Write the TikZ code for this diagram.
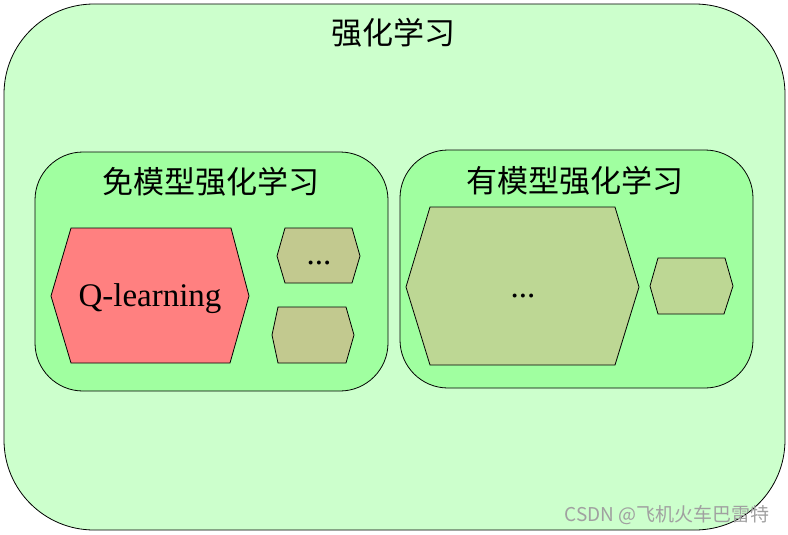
\documentclass[tikz,border=0pt]{standalone}
\usepackage{fontspec}
\setmainfont{Liberation Serif}
\newfontfamily\cjk{Noto Sans CJK SC}
\usepackage{tikz}
\usetikzlibrary{calc}
\usetikzlibrary{positioning}
\definecolor{palegreen}{RGB}{204, 255, 204}
\definecolor{lightgreen}{RGB}{160, 255, 160}
\definecolor{salmon}{RGB}{255, 128, 128}
\definecolor{olive}{RGB}{194, 201, 143}
\definecolor{sage}{RGB}{189, 215, 148}
\definecolor{watermark}{RGB}{160, 160, 160}

\begin{document}
\begin{tikzpicture}[x=1pt, y=-1pt, line width=0.8pt,
    title/.style={font=\cjk\fontsize{31}{36}\selectfont},
    label/.style={font=\fontsize{33}{38}\selectfont}]
            \useasboundingbox (0,0) rectangle (788,535);
            % outer and inner boxes
            \filldraw[color=black, fill=palegreen,  rounded corners=90pt]( 4.00,  4.00) rectangle (785.00, 530.00);
            \filldraw[color=black, fill=lightgreen, rounded corners=48pt](35.00,152.00) rectangle (388.00, 391.00);
            \filldraw[color=black, fill=lightgreen, rounded corners=48pt](400.00,150.00) rectangle (753.00, 388.00);
            \node[title] (rl)   at (393, 33)  {强化学习};
            \node[title] (free) at (211,182)  {免模型强化学习};
            \node[title] (base) at (575,181)  {有模型强化学习};
            % hexagons, model free
            \filldraw[color=black, fill=salmon] (71,228) -- (231,228) -- (249,296) -- (230,363) -- (71,363) -- (51,296) -- cycle;
            \filldraw[color=black, fill=olive]  (285,228) -- (352,228) -- (360,256) -- (352,283) -- (285,283) -- (277,256) -- cycle;
            \filldraw[color=black, fill=olive]  (278,307) -- (346,307) -- (354,335) -- (346,363) -- (278,363) -- (272,335) -- cycle;
            \node[label, anchor=base] (qlearn) at (150,306) {Q-learning};
            \node[label, anchor=base] (free2)  at (319,264) {...};
            % hexagons, model based
            \filldraw[color=black, fill=sage]   (430,207) -- (615,207) -- (639,287) -- (615,365) -- (430,365) -- (406,287) -- cycle;
            \filldraw[color=black, fill=sage]   (658,258) -- (725,258) -- (733,286) -- (724,314) -- (658,314) -- (650,286) -- cycle;
            \node[label, anchor=base] (based1) at (523,297) {...};
            \node[font=\cjk\fontsize{19}{22}\selectfont, text=watermark] (mark) at (667,515) {CSDN @飞机火车巴雷特};
        \end{tikzpicture}
\end{document}
